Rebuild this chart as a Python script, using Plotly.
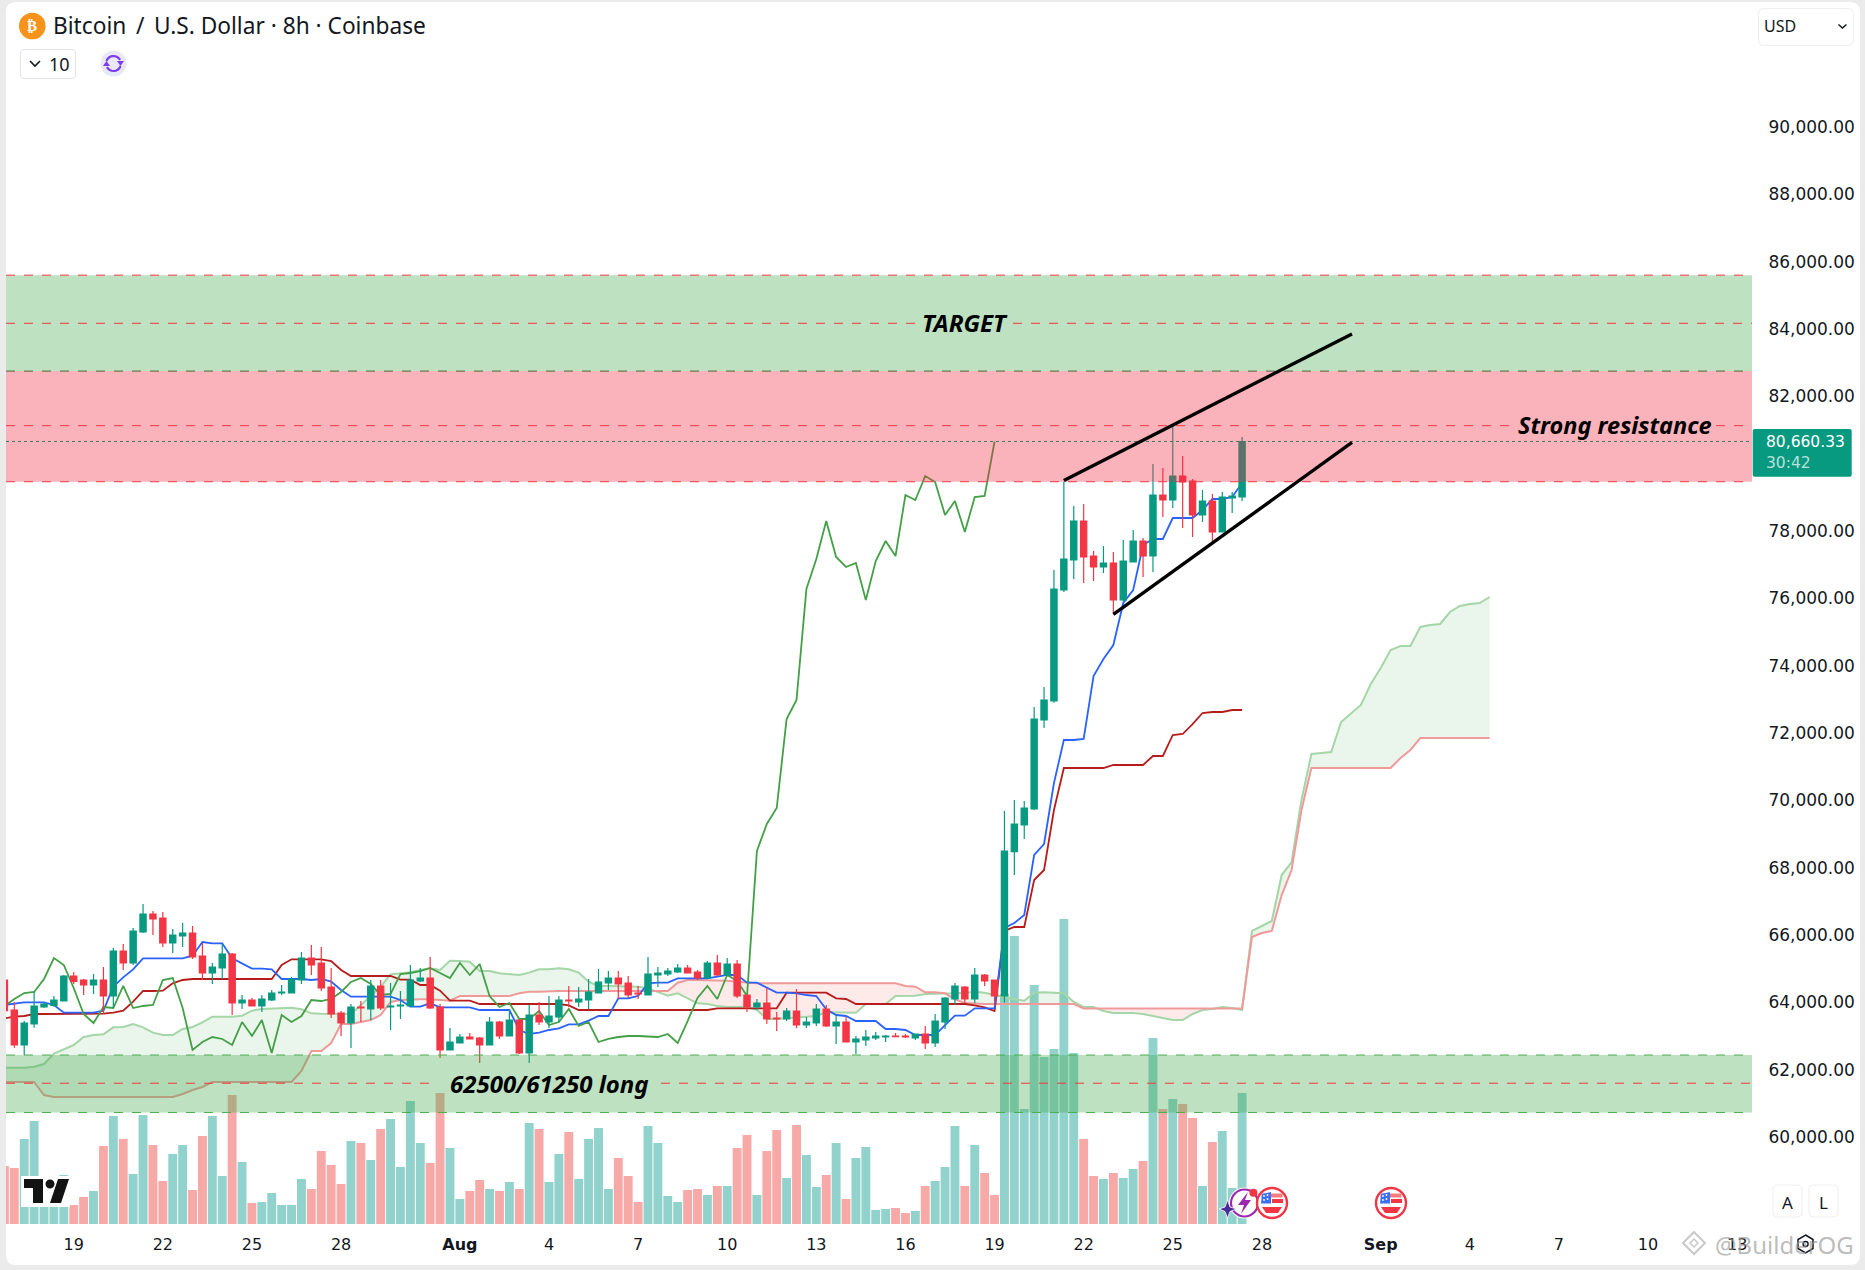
import numpy as np
import pandas as pd
import plotly.graph_objects as go

# ---------- data ----------
opens = [
64666,63775,62735,63359,63864,63914,64042,64785,64666,64517,
64666,64191,65527,65171,66092,66626,66507,65765,65973,66062,
65379,64874,65022,65438,63983,64072,63894,64072,64280,64280,
64666,65319,65171,64458,63686,63389,63864,63805,64488,63864,
63894,63894,64636,64725,63864,62587,62795,62973,62943,62736,
63419,63003,63478,62498,63626,63419,63567,64072,64013,64072,
64280,64577,64725,64577,64280,64220,64815,64844,64904,65022,
64904,64725,65171,64815,65141,64220,63864,63983,63537,63508,
63745,63329,63389,63805,63300,63418,62825,62884,62943,62973,
63003,63003,62943,63062,62795,63419,64102,64458,64102,64814,
64666,64191,68477,69269,69745,72388,72952,76249,77140,78298,
77259,76932,77051,75952,77081,77704,77259,79070,78922,79635,
79486,78476,78892,77972,78981,79011]
highs = [
64670,64003,63448,64320,64003,64191,64815,64904,64696,64844,
65052,65616,65735,66210,66923,66715,66686,66181,66359,66270,
65765,65171,65735,65468,64221,64131,64221,64369,64517,64755,
65498,65705,65646,65022,63745,63953,64042,64666,64666,64577,
64339,65111,65022,65349,63953,63240,63062,63092,62973,63567,
63448,63775,63508,63923,64013,64191,64191,64488,64458,64696,
64993,64933,64933,64785,64488,65349,65052,65022,65141,65111,
64963,65230,65408,65319,65260,64220,64102,64428,63716,63834,
64399,63567,63953,63923,63626,63567,63003,63181,63122,63033,
63092,63062,63062,63300,63656,64161,64577,64488,65022,64844,
64666,69685,70012,69982,72774,73368,76843,79466,78744,78803,
77407,77556,77378,77734,78031,77793,79991,79872,81179,80229,
79546,79219,79100,79160,79160,80793]
lows = [
63750,62656,62438,63250,63834,63874,64042,64547,64221,64250,
63656,63834,64963,65111,66062,66003,65646,65468,65646,65290,
64666,64547,64696,63626,63805,63894,63716,64042,64221,64280,
64547,64814,64339,63537,63003,62646,63419,63478,63775,63181,
63508,63864,64606,63805,62349,62587,62795,62914,62201,62736,
62914,63003,62468,62201,63329,63240,63419,63864,63864,63805,
64280,64369,64102,64131,64102,64220,64458,64785,64874,64874,
64666,64725,64785,64785,64131,63716,63775,63359,63151,63448,
63240,63240,63300,63270,62765,62825,62468,62706,62884,62825,
62973,62943,62884,62617,62676,63211,63923,63983,63983,64488,
63900,64000,67784,68854,69715,72150,72900,76190,76576,76457,
76516,76754,75566,75900,77081,76635,76784,78417,78684,78090,
77823,78269,77675,77972,78536,78892]
closes = [
63755,62735,63389,63894,63953,64072,64785,64626,64517,64666,
64191,65527,65171,66121,66626,66478,65765,66003,66062,65349,
64874,65052,65438,63983,64072,63894,64102,64280,64310,64696,
65319,65111,64428,63656,63389,63864,63834,64488,63834,63894,
63924,64666,64725,63834,62587,62825,62973,62914,62736,63419,
63003,63478,62498,63626,63419,63597,64072,64042,64102,64310,
64607,64725,64547,64220,64250,64844,64874,64933,65022,64874,
64725,65171,64815,65141,64191,63864,63983,63508,63508,63745,
63329,63418,63805,63300,63418,62825,62914,62973,63003,63003,
62983,62973,63062,62795,63448,64131,64488,64102,64814,64636,
64191,68497,69299,69774,72418,72982,76279,77170,78298,77229,
76932,77051,75952,77110,77704,77259,79070,78922,79635,79457,
78476,78892,77972,79011,79041,80660]
volumes = [
580,560,850,1030,180,180,490,190,270,330,
780,1080,850,500,1090,790,430,700,790,340,
880,1080,480,1290,620,210,220,310,190,190,
450,350,730,590,400,830,810,640,950,1050,
570,1230,810,610,1310,760,250,330,440,350,
330,420,350,1010,950,420,700,920,450,850,
960,350,660,480,220,980,810,280,220,340,
350,290,380,380,760,890,290,730,940,460,
990,690,370,490,810,250,660,770,140,150,
160,110,130,380,430,570,980,380,790,510,
290,2300,2880,1150,2390,1670,1750,3050,1710,850,
480,450,510,460,550,630,1860,1150,1250,1200,
1060,380,820,930,360,1310]
conversion = [
63924,63973,64003,64003,64003,63924,63696,63696,63696,63696,
63755,64468,64745,64983,65309,65309,65309,65309,65309,65389,
65795,65755,65755,65309,65161,65003,65003,64983,64696,64696,
64696,64666,64696,64617,64369,64171,64171,64171,64171,64171,
64072,63874,63874,63973,63854,63854,63854,63854,63775,63775,
63775,63775,63181,63062,63102,63181,63230,63349,63349,63458,
63597,63597,64121,64121,64191,64567,64587,64587,64716,64716,
64716,64716,64765,64815,64815,64587,64587,64448,64290,64290,
64270,64220,64191,63795,63626,63597,63448,63448,63448,63211,
63211,63181,63032,63032,63032,63329,63607,63607,63825,63825,
63825,66210,66359,66596,68379,68705,70517,71794,71794,71824,
73695,74200,74615,75863,76249,77585,77764,77764,78387,78387,
78387,78625,78952,78952,79011,79427]
base_line = [
63527,63577,63597,63656,63656,63656,63656,63656,63656,63656,
63666,63696,63755,64023,64339,64339,64349,64567,64666,64696,
64696,64696,64696,64696,64696,64696,64696,64696,65111,65280,
65280,65280,65280,65230,64963,64785,64785,64785,64785,64785,
64676,64676,64517,64517,64349,64052,64052,64052,63953,63953,
63953,63953,63953,63953,63953,63953,63953,63914,63775,63775,
63775,63775,63775,63775,63775,63775,63775,63775,63775,63775,
63775,63775,63825,63825,63825,63825,63825,63825,63825,64290,
64290,64290,64290,64290,64121,64102,63953,63953,63953,63953,
63953,63953,63953,63953,63953,63953,63953,63953,63914,63854,
63745,66122,66240,66240,67636,67933,69715,70962,70962,70962,
70962,70962,71052,71052,71052,71052,71319,71319,71943,71972,
72269,72596,72626,72626,72685,72685]
span_a = [
62062,62062,62062,62092,62171,62478,62617,62735,62973,63032,
63052,63260,63270,63359,63260,63102,63032,63032,63211,63270,
63409,63577,63577,63577,63607,63755,63805,63825,63844,63844,
63795,63676,63666,63666,63656,63656,63923,64191,64468,64834,
64864,64894,64963,65012,64963,65240,65230,65211,64933,64933,
64864,64834,64815,64884,64983,64983,65012,64983,64884,64616,
64488,64488,64488,64488,64468,64418,64320,64201,64270,64121,
63973,63953,63894,63864,63864,63864,63775,63508,63508,63527,
63557,63577,63597,63706,63696,63706,63696,63953,63953,63953,
64191,64191,64201,64250,64250,64250,64270,64290,64320,64290,
64220,64141,64092,64052,64290,64300,64290,64270,64013,63864,
63864,63745,63686,63686,63686,63656,63597,63537,63478,63478,
63656,63775,63805,63864,63834,63775,66122,66270,66419,67784,
68170,70012,71378,71408,71438,72329,72596,72834,73457,73932,
74467,74586,74586,75150,75209,75239,75596,75774,75833,75863,
76041]
span_b = [
61637,61637,61637,61637,61250,61191,61191,61191,61191,61191,
61191,61191,61191,61191,61191,61191,61191,61191,61280,61399,
61488,61637,61637,61637,61637,61637,61637,61637,61637,61637,
61963,62557,62557,62795,63359,63359,63419,63478,63626,64013,
64072,64092,64092,64092,64072,64052,64191,64191,64191,64191,
64191,64191,64270,64320,64320,64339,64339,64339,64339,64339,
64339,64339,64330,64320,64320,64320,64330,64339,64587,64666,
64666,64666,64666,64646,64616,64587,64567,64567,64567,64567,
64567,64567,64567,64567,64567,64567,64567,64567,64567,64567,
64567,64488,64468,64300,64300,64270,64092,63983,63963,63953,
63953,63953,63953,63953,63953,63953,63953,63953,63953,63820,
63820,63820,63820,63820,63820,63820,63820,63820,63820,63820,
63820,63820,63820,63820,63820,63820,65943,66062,66122,67190,
67933,69715,70962,70962,70962,70962,70962,70962,70962,70962,
70962,71259,71497,71853,71853,71853,71853,71853,71853,71853,
71853]
price_ticks = [v for v in range(60000, 90001, 2000) if v != 80000]
x_tick_dates = ["2024-07-19","2024-07-22","2024-07-25","2024-07-28","2024-08-01","2024-08-04",
                "2024-08-07","2024-08-10","2024-08-13","2024-08-16","2024-08-19","2024-08-22",
                "2024-08-25","2024-08-28","2024-09-01","2024-09-04","2024-09-07","2024-09-10","2024-09-13"]
x_tick_labels = ["19","22","25","28","<b>Aug</b>","4","7","10","13","16","19","22","25","28","<b>Sep</b>","4","7","10","13"]
last_price = 80660.33
target_zone = (82750, 84170, 85600)
resist_zone = (79465, 81130, 82750)
long_zone = (60730, 61600, 62438)
upper_trend = (107, 79500, 136.1, 83852)
lower_trend = (112, 75527, 136.1, 80630)

# ---------- geometry ----------
W, H = 1865, 1270
PL, PR, PT, PB = 6, 1752, 3, 1224
VOL_MAX = (PB - PT) * 10
t0 = pd.Timestamp("2024-07-16 16:00")
def bar_time(i):
    return t0 + pd.Timedelta(hours=8) * i
times = [bar_time(i) for i in range(len(span_a))]
def px(x): return (x - PL) / (PR - PL)
def py(y): return (PB - y) / (PB - PT)
def p_at(y): return 93772 - 29.7 * y
GREEN, RED = "#089981", "#F23645"
TXT = "#131722"
FONT = "DejaVu Sans"
TITLE_FONT = "Noto Sans"

fig = go.Figure()
# volume
vol_colors = ["#92D2CC" if c >= o else "#F7A9A7" for o, c in zip(opens, closes)]
fig.add_trace(go.Bar(x=times[:len(volumes)], y=volumes, marker=dict(color=vol_colors, line_width=0),
                     yaxis="y", hoverinfo="skip", showlegend=False))
# cloud
lower = np.minimum(span_a, span_b).tolist()
n = len(span_a)
fig.add_trace(go.Scatter(x=times, y=lower, mode="lines", line=dict(width=0), yaxis="y2", hoverinfo="skip", showlegend=False))
fig.add_trace(go.Scatter(x=times, y=span_a, mode="lines", line=dict(width=0), fill="tonexty",
                         fillcolor="rgba(67,160,71,0.11)", yaxis="y2", hoverinfo="skip", showlegend=False))
fig.add_trace(go.Scatter(x=times, y=lower, mode="lines", line=dict(width=0), yaxis="y2", hoverinfo="skip", showlegend=False))
fig.add_trace(go.Scatter(x=times, y=span_b, mode="lines", line=dict(width=0), fill="tonexty",
                         fillcolor="rgba(244,67,54,0.11)", yaxis="y2", hoverinfo="skip", showlegend=False))
fig.add_trace(go.Scatter(x=times, y=span_a, mode="lines", line=dict(color="#A5D6A7", width=2), yaxis="y2", hoverinfo="skip", showlegend=False))
fig.add_trace(go.Scatter(x=times, y=span_b, mode="lines", line=dict(color="#EF9A9A", width=2), yaxis="y2", hoverinfo="skip", showlegend=False))
# ichimoku lines
fig.add_trace(go.Scatter(x=times[:len(base_line)], y=base_line, mode="lines", line=dict(color="#B71C1C", width=1.8), yaxis="y2", hoverinfo="skip", showlegend=False))
fig.add_trace(go.Scatter(x=times[:len(conversion)], y=conversion, mode="lines", line=dict(color="#2962FF", width=1.8), yaxis="y2", hoverinfo="skip", showlegend=False))
lagging = closes[25:]
fig.add_trace(go.Scatter(x=times[:len(lagging)], y=lagging, mode="lines", line=dict(color="#43A047", width=1.8), yaxis="y2", hoverinfo="skip", showlegend=False))
# candles
fig.add_trace(go.Candlestick(x=times[:len(opens)], open=opens, high=highs, low=lows, close=closes,
                             yaxis="y3", whiskerwidth=0, hoverinfo="skip", showlegend=False,
                             increasing=dict(line=dict(color=GREEN, width=1.2), fillcolor=GREEN),
                             decreasing=dict(line=dict(color=RED, width=1.2), fillcolor=RED)))

shapes, annos = [], []
def rect(x0, y0, x1, y1, fill, line=None, lw=1, layer="above"):
    shapes.append(dict(type="rect", xref="paper", yref="paper", x0=px(x0), x1=px(x1), y0=py(y0), y1=py(y1),
                       fillcolor=fill, line=dict(color=line or "rgba(0,0,0,0)", width=lw if line else 0), layer=layer))
def rrect(x0, y0, x1, y1, r, fill, line=None, lw=1, layer="above"):
    f = lambda x, y: f"{px(x):.5f} {py(y):.5f}"
    d = (f"M {f(x0+r,y0)} L {f(x1-r,y0)} Q {f(x1,y0)} {f(x1,y0+r)} L {f(x1,y1-r)} Q {f(x1,y1)} {f(x1-r,y1)} "
         f"L {f(x0+r,y1)} Q {f(x0,y1)} {f(x0,y1-r)} L {f(x0,y0+r)} Q {f(x0,y0)} {f(x0+r,y0)} Z")
    shapes.append(dict(type="path", xref="paper", yref="paper", path=d, fillcolor=fill,
                       line=dict(color=line or "rgba(0,0,0,0)", width=lw if line else 0), layer=layer))
def circle(cx, cy, r, fill, line=None, lw=1):
    shapes.append(dict(type="circle", xref="paper", yref="paper", x0=px(cx-r), x1=px(cx+r), y0=py(cy+r), y1=py(cy-r),
                       fillcolor=fill, line=dict(color=line or "rgba(0,0,0,0)", width=lw if line else 0), layer="above"))
def poly(pts, fill=None, line=None, lw=1, closed=True):
    d = "M " + " L ".join(f"{px(x):.5f} {py(y):.5f}" for x, y in pts) + (" Z" if closed else "")
    shapes.append(dict(type="path", xref="paper", yref="paper", path=d, fillcolor=fill or "rgba(0,0,0,0)",
                       line=dict(color=line or "rgba(0,0,0,0)", width=lw if line else 0), layer="above"))
def text(x, y, s, size=17, color=TXT, font=FONT, xa="left"):
    annos.append(dict(x=px(x), y=py(y), xref="paper", yref="paper", text=s, showarrow=False, xanchor=xa, yanchor="middle",
                      font=dict(size=size, color=color, family=font), borderpad=0, borderwidth=0))

# card background
rrect(6, 2, 1860, 1265, 10, "#FFFFFF", layer="below")

# zones (drawn above the marks, translucent)
PINK, GRN = "rgba(244,44,66,0.36)", "rgba(66,169,78,0.35)"
def zone(lo, hi, fill):
    shapes.append(dict(type="rect", xref="paper", yref="y2", x0=0, x1=1, y0=lo, y1=hi, fillcolor=fill, line_width=0, layer="above"))
def hline(p, color, dash="dash", lw=1, x0=PL, x1=PR):
    shapes.append(dict(type="line", xref="paper", yref="y2", x0=px(x0), x1=px(x1), y0=p, y1=p,
                       line=dict(color=color, width=lw, dash=dash), layer="above"))
zone(target_zone[0], target_zone[2], GRN)
zone(resist_zone[0], resist_zone[2], PINK)
zone(long_zone[0], long_zone[2], GRN)
LINE_R = "#F23645"
hline(target_zone[2], LINE_R)
hline(target_zone[1], LINE_R, x1=915); hline(target_zone[1], LINE_R, x0=1013)
hline(target_zone[0], "#6b7a55", lw=1.2)
hline(resist_zone[1], LINE_R, x1=1513); hline(resist_zone[1], LINE_R, x0=1716)
hline(resist_zone[0], LINE_R)
hline(long_zone[2], "#4CAF50")
hline(long_zone[1], LINE_R, x1=435); hline(long_zone[1], LINE_R, x0=661)
hline(long_zone[0], "#4CAF50")
hline(last_price, "#3f7a68", dash="dot")

# trend lines
for x0, y0, x1, y1 in (upper_trend, lower_trend):
    shapes.append(dict(type="line", xref="x", yref="y2", x0=bar_time(x0), x1=bar_time(x1), y0=y0, y1=y1,
                       line=dict(color="#000000", width=3.4), layer="above"))

# zone labels
text(965, 322, "<b><i>TARGET</i></b>", 24, "#000000", TITLE_FONT, "center")
text(1615, 424.5, "<b><i>Strong resistance</i></b>", 23.5, "#000000", TITLE_FONT, "center")
text(549.5, 1083.5, "<b><i>62500/61250 long</i></b>", 24, "#000000", TITLE_FONT, "center")

# last price label
rrect(1752.7, 429, 1851.7, 476.7, 2, GREEN)
text(1766, 442, "80,660.33", 15.5, "#FFFFFF")
text(1766, 463, "30:42", 15.5, "rgba(255,255,255,0.72)")

# header
circle(32.3, 26, 13.3, "#F7931A")
text(32.3, 26, "<b>₿</b>", 15, "#FFFFFF", "DejaVu Sans", "center")
text(52.5, 26, "Bitcoin\u2009 /\u2009 U.S. Dollar · 8h · Coinbase", 22.7, TXT, TITLE_FONT)
rrect(20.5, 49.5, 75.5, 78.5, 4, "#FFFFFF", "#E0E3EB", 1)
poly([(30, 61), (35, 66), (40, 61)], line=TXT, lw=1.6, closed=False)
text(49, 64, "10", 18, TXT, TITLE_FONT)
circle(113.5, 63.5, 13, "#E8E8F8")
def arc(cx, cy, r, a0, a1):
    return [(cx + r*np.cos(np.radians(a)), cy + r*np.sin(np.radians(a))) for a in range(a0, a1, 12)]
poly(arc(113.5, 63.5, 7.5, 200, 340), line="#7C3AED", lw=2.2, closed=False)
poly(arc(113.5, 63.5, 7.5, 20, 160), line="#7C3AED", lw=2.2, closed=False)
poly([(117, 61), (124, 61), (120.5, 66)], fill="#7C3AED")
poly([(103, 66), (110, 66), (106.5, 61)], fill="#7C3AED")
# currency box
rrect(1758.5, 8.5, 1853.5, 45.5, 6, "#FFFFFF", "#EDEEF2", 1)
text(1764, 26.5, "USD", 16, TXT, TITLE_FONT)
poly([(1838.5, 24.5), (1842.5, 28), (1846.5, 24.5)], line=TXT, lw=1.5, closed=False)

# TradingView logo
rect(21, 1176, 70, 1207, "#FFFFFF")
poly([(24, 1179), (43, 1179), (43, 1203), (33, 1203), (33, 1188), (24, 1188)], fill="#131313")
circle(50, 1184, 4.5, "#131313")
poly([(69, 1179), (61, 1203), (50, 1203), (58, 1179)], fill="#131313")

# events
def flag(cx, cy):
    circle(cx, cy, 15, "#FFFFFF", RED, 2.4)
    rect(cx-10.5, cy-9.5, cx+10.5, cy-5.5, "#F77C80")
    rect(cx, cy-4, cx+11, cy, "#F23645")
    rect(cx-10.5, cy+1, cx+11, cy+3, "#FFFFFF")
    poly([(cx-10, cy+4), (cx+10, cy+4), (cx+6, cy+10), (cx-6, cy+10)], fill="#F23645")
    poly([(cx-10, cy-9), (cx-1, cy-11), (cx-1, cy+0.5), (cx-11, cy+0.5)], fill="#3B6FF5")
    for dx, dy in [(-8, -7), (-4.5, -8), (-8, -3), (-4.5, -4)]:
        circle(cx+dx, cy+dy, 0.9, "#FFFFFF")
circle(1244.5, 1203, 15.5, "#FFFFFF")
circle(1244.5, 1203, 13.5, "#FFFFFF", "#9C27B0", 2.2)
poly([(1248, 1192), (1238, 1205), (1244, 1205), (1241, 1214), (1251, 1200), (1245, 1200)], fill="#9C27B0")
circle(1253.4, 1192.7, 4, RED)
flag(1272, 1203)
flag(1391, 1203)
poly([(1227.5, 1200), (1230, 1207), (1236.5, 1209), (1230, 1211.5), (1227.5, 1218), (1225, 1211.5), (1219, 1209), (1225, 1207)], fill="#4A2A9A", line="#FFFFFF", lw=0.8)

# A / L buttons
rrect(1773, 1185, 1802, 1217, 5, "#FFFFFF", "#EDEEF2", 1)
rrect(1809, 1185, 1838, 1217, 5, "#FFFFFF", "#EDEEF2", 1)
text(1787.5, 1202, "A", 17, TXT, TITLE_FONT, "center")
text(1823.5, 1202, "L", 17, TXT, TITLE_FONT, "center")

# gear icon and watermark
poly([(1805.6, 1235), (1813, 1239.5), (1813, 1248.5), (1805.6, 1253), (1798, 1248.5), (1798, 1239.5)], line=TXT, lw=1.5)
circle(1805.6, 1244, 2.5, "rgba(0,0,0,0)", TXT, 1.4)
poly([(1694, 1232), (1705, 1243), (1694, 1254), (1683, 1243)], line="#C9C9C9", lw=2)
poly([(1694, 1239), (1698, 1243), (1694, 1247), (1690, 1243)], line="#C9C9C9", lw=1.5)
text(1715, 1244, "@BuilderOG", 24, "rgba(150,150,150,0.65)", TITLE_FONT)

y_lo, y_hi = p_at(PB), p_at(PT)
fig.update_layout(
    width=W, height=H, autosize=False,
    margin=dict(l=PL, r=W-PR, t=PT, b=H-PB, pad=0),
    paper_bgcolor="#EBEBEB", plot_bgcolor="rgba(0,0,0,0)",
    showlegend=False, bargap=0.1, boxgap=0.1, boxgroupgap=0.3, hovermode=False, dragmode=False,
    shapes=shapes, annotations=annos,
    xaxis=dict(type="date", range=[bar_time(0.16), bar_time(176.5)], rangeslider=dict(visible=False),
               tickmode="array", tickvals=x_tick_dates, ticktext=x_tick_labels,
               tickfont=dict(family=FONT, size=16, color=TXT), ticks="outside", ticklen=6, tickcolor="rgba(0,0,0,0)",
               showgrid=False, zeroline=False, showline=False, anchor="y", fixedrange=True),
    yaxis=dict(range=[0, VOL_MAX], visible=False, fixedrange=True, domain=[0, 1]),
    yaxis2=dict(range=[y_lo, y_hi], overlaying="y", side="right", anchor="x", tickmode="array", tickvals=price_ticks,
                ticktext=[f"{v:,.2f}" for v in price_ticks],
                tickfont=dict(family=FONT, size=17, color=TXT), ticks="outside", ticklen=12, tickcolor="rgba(0,0,0,0)",
                showgrid=False, zeroline=False, showline=False, fixedrange=True),
    yaxis3=dict(range=[y_lo, y_hi], overlaying="y", visible=False, fixedrange=True),
)
fig.write_html("out.html", config={"displayModeBar": False},
               post_script="document.body.style.margin='0';document.body.style.overflow='hidden';")
